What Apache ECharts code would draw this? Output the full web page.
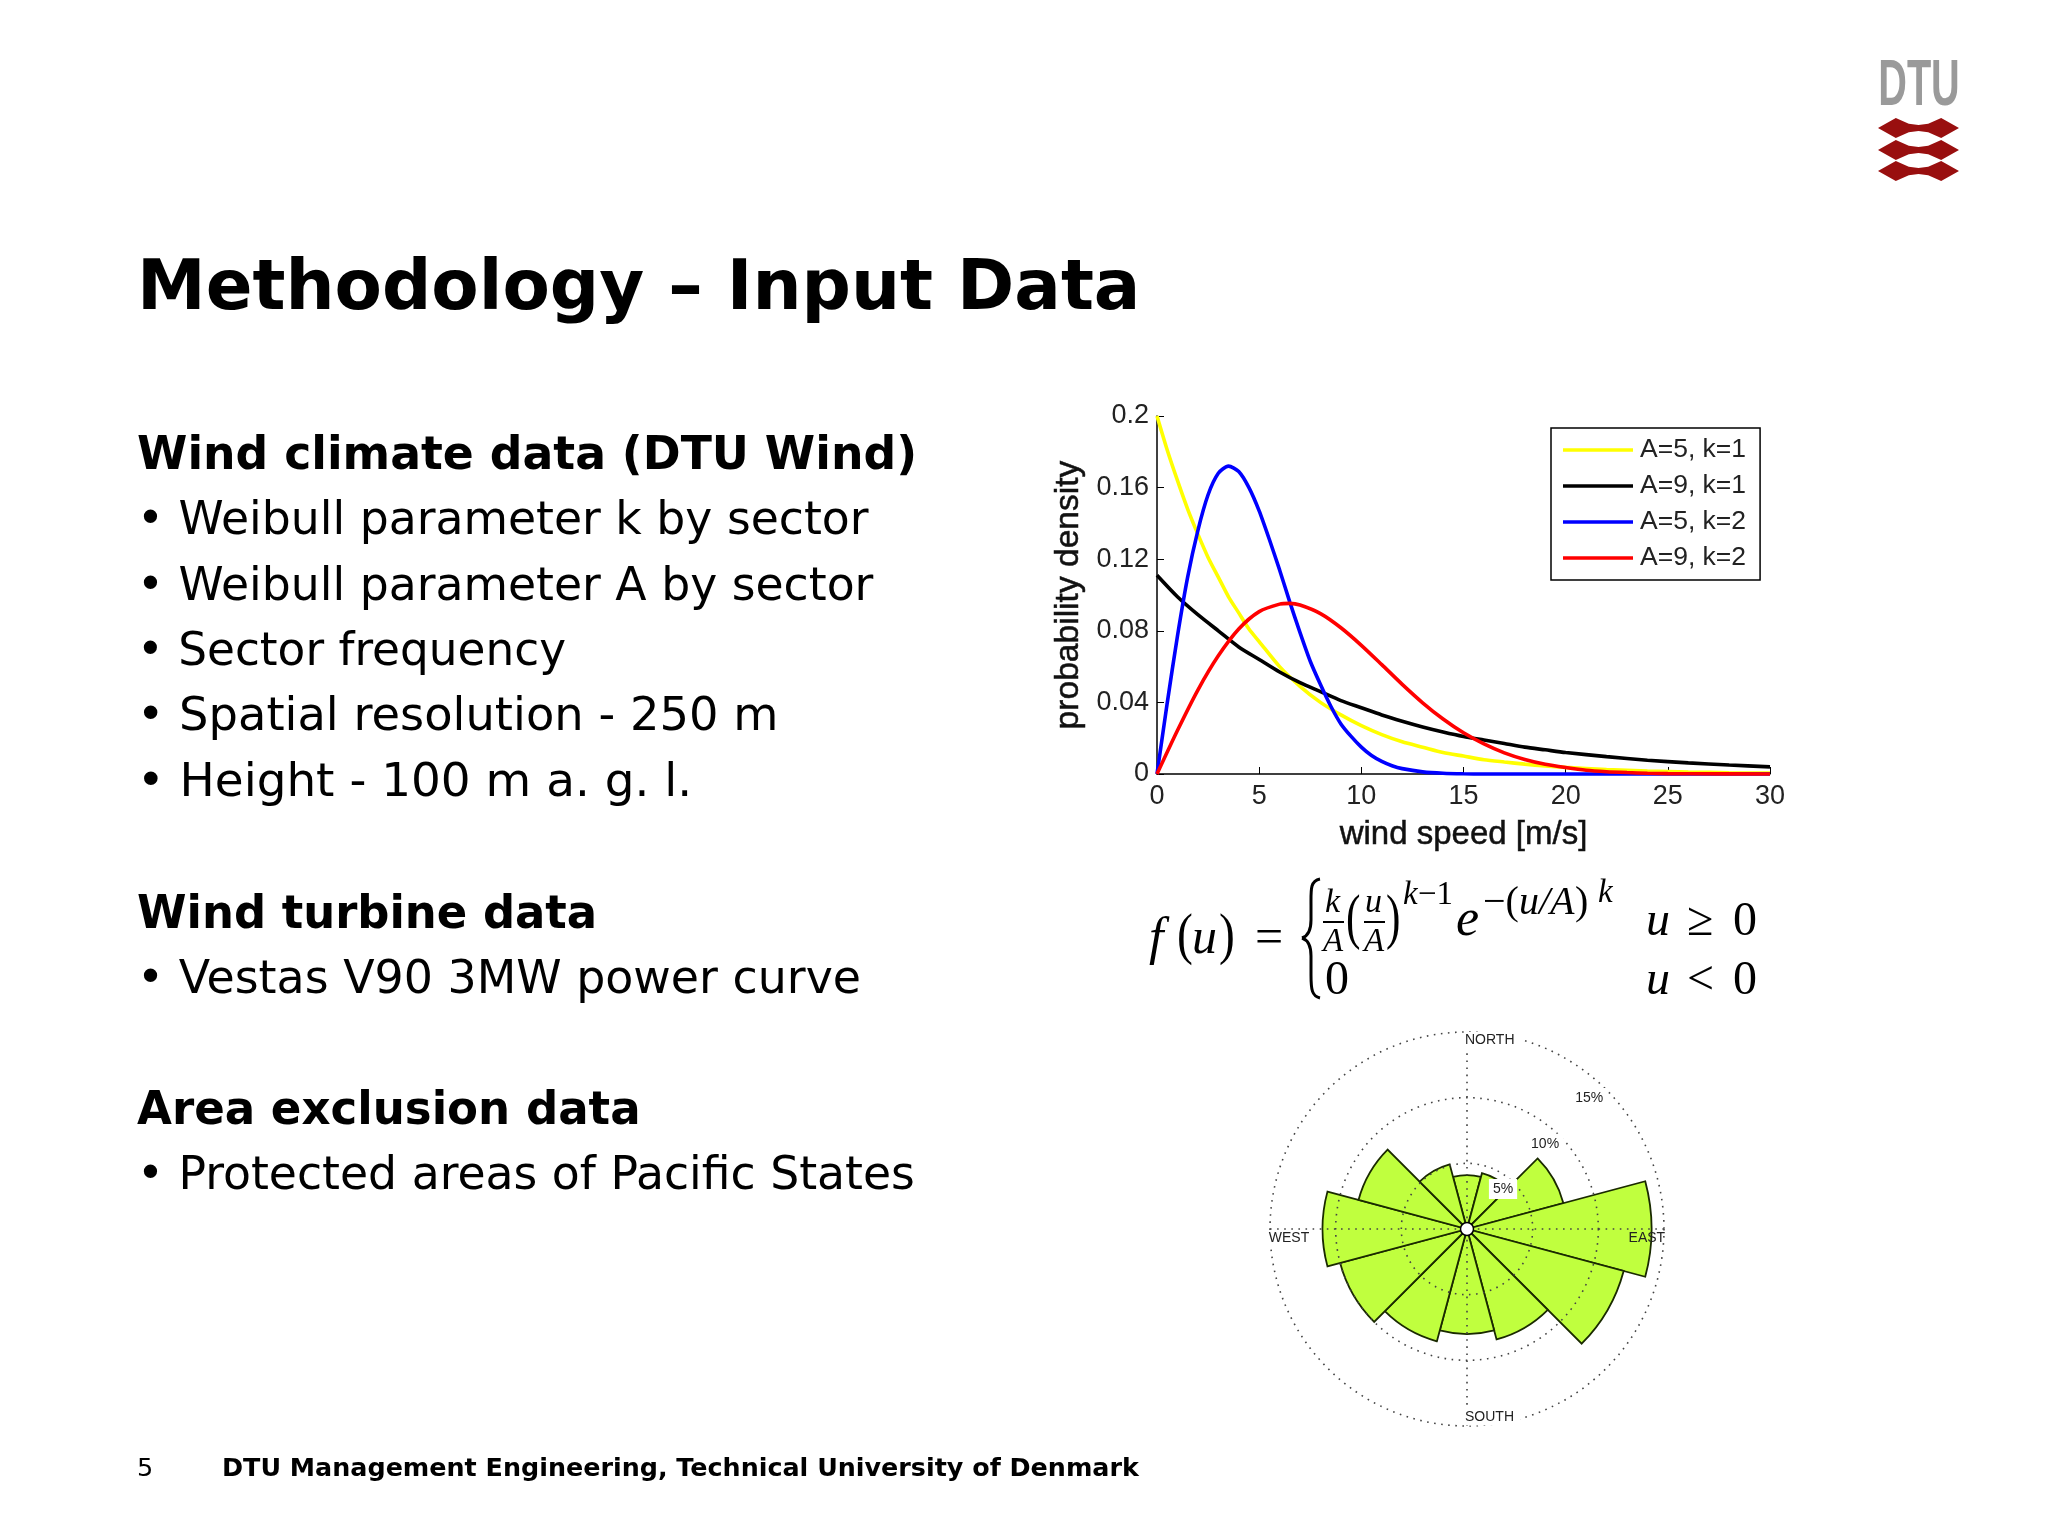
<!DOCTYPE html>
<html><head><meta charset="utf-8">
<style>html,body{margin:0;padding:0;background:#fff}#c{width:2048px;height:1536px}</style>
<script src="https://cdn.jsdelivr.net/npm/echarts@6/dist/echarts.min.js"></script>
</head><body><div id="c"></div>
<script>
// Weibull chart values
const yellowX=[0,.5,1,1.5,2,2.5,3,3.5,4,4.5,5,6,7,8,9,10,11,12,13,14,15,16,17,18,19,20,22,24,26,28,30];
const yellowY=[.2,.181,.164,.148,.134,.121,.11,.099,.09,.081,.074,.06,.049,.04,.033,.027,.022,.018,.015,.012,.01,.008,.0067,.0055,.0045,.0037,.0025,.0016,.0011,.0007,.0005];
const blackX=[0,1,2,3,4,5,6,7,8,9,10,11,12,13,14,15,16,17,18,19,20,22,24,26,28,30];
const blackY=[.111,.099,.089,.08,.071,.064,.057,.051,.046,.041,.037,.033,.0295,.0263,.0235,.021,.019,.017,.015,.0135,.012,.0097,.0077,.0062,.005,.004];
const blueX=[0,.5,1,1.5,2,2.5,3,3.5,4,4.5,5,5.5,6,6.5,7,7.5,8,8.5,9,9.5,10,10.5,11,11.5,12,13,14,15,16,20,24,30];
const blueY=[0,.0396,.077,.11,.136,.156,.168,.172,.169,.16,.147,.131,.114,.096,.079,.063,.05,.038,.028,.021,.015,.0103,.007,.0046,.003,.0012,.0004,.0001,0,0,0,0];
const redX=[0,1,2,3,4,5,6,6.5,7,8,9,10,11,12,13,14,15,16,17,18,19,20,21,22,23,24,25,26,30];
const redY=[0,.0243,.0469,.066,.081,.0907,.0949,.0953,.0944,.0896,.0817,.0719,.0611,.0501,.0398,.0307,.023,.0168,.0118,.0081,.0054,.0036,.0021,.0013,.0008,.0004,.0002,.0001,0];
const seriesNames=['A=5, k=1','A=9, k=1','A=5, k=2','A=9, k=2'];
// Wind rose values (percent by sector)
const sectors=['N','30','60','E','120','150','S','210','240','W','300','330'];
const sectorPct=[4.1,4.4,7.6,14.05,12.35,8.7,8,8.85,10,11,8.55,5.1];
const compassNames=['NORTH','SOUTH','EAST','WEST'];
const pctNames=['5%','10%','15%'];
// Slide text
const slideTitle='Methodology – Input Data';
const headings=['Wind climate data (DTU Wind)','Wind turbine data','Area exclusion data'];
const bullets=['• Weibull parameter k by sector','• Weibull parameter A by sector','• Sector frequency','• Spatial resolution - 250 m','• Height - 100 m a. g. l.','• Vestas V90 3MW power curve','• Protected areas of Pacific States'];
const footerNum='5';
const footerText='DTU Management Engineering, Technical University of Denmark';

// layout
const headingY=[457,916,1112], headingFit=[1,.983,.987];
const bulletY=[522,588,653,718,784,981,1177], bulletFit=[1,1,.993,1.015,1.026,1.004,1];
const zip=(a,b)=>a.map((v,i)=>[v,b[i]]);
const SANS='"Liberation Sans"', VER='"DejaVu Sans"', MATH='"Liberation Serif"';
const g=[];
function T(x,y,text,size,o={}){
  g.push({type:'text',x,y,scaleX:o.sx||1,scaleY:o.sy||1,z:10,style:{text,fontFamily:o.ff||VER,fontSize:size,fontWeight:o.w||'normal',fontStyle:o.i?'italic':'normal',fill:o.c||'#000',align:o.a||'left',verticalAlign:'middle'}});
}
T(137,291,slideTitle,69,{w:'bold'});
headings.forEach((h,i)=>T(137,headingY[i],h,45.7,{w:'bold',sx:headingFit[i]}));
bullets.forEach((b,i)=>T(137,bulletY[i],b,45.7,{sx:bulletFit[i]}));
T(137,1469,footerNum,25.5);
T(222,1469,footerText,25.4,{w:'bold'});
// logo
T(1919,87,'DTU',64,{ff:SANS,w:'bold',c:'#9a9a9a',a:'center',sx:.62});
[128,150,171].forEach(cy=>{
  const x0=1878,w=81,h=10;
  g.push({type:'polygon',z:10,shape:{smooth:0,points:[[x0,cy],[x0+w*.22,cy-h],[x0+w*.38,cy-h*.42],[x0+w*.5,cy-h*.3],[x0+w*.62,cy-h*.42],[x0+w*.78,cy-h],[x0+w,cy],[x0+w*.78,cy+h],[x0+w*.62,cy+h*.42],[x0+w*.5,cy+h*.3],[x0+w*.38,cy+h*.42],[x0+w*.22,cy+h]]},style:{fill:'#990f0f'}});
});
// formula
const I=(x,y,t,s)=>T(x,y,t,s,{ff:MATH,i:true});
const U=(x,y,t,s,sx)=>T(x,y,t,s,{ff:MATH,sx});
I(1149,940,'f',52); U(1177,938,'(',56,.85); I(1192,940,'u',50); U(1219,938,')',56,.85);
U(1255,940,'=',50);
const C=(x1,y1,a,b,c,d,x2,y2)=>g.push({type:'bezierCurve',z:10,shape:{x1,y1,cpx1:a,cpy1:b,cpx2:c,cpy2:d,x2,y2},style:{stroke:'#000',lineWidth:3,fill:'none'}});
const L=(x1,y1,x2,y2,w)=>g.push({type:'line',z:10,shape:{x1,y1,x2,y2},style:{stroke:'#000',lineWidth:w}});
C(1320,879,1310,881,1311,890,1311,905); L(1311,905,1311,920,3); C(1311,920,1311,930,1308,936,1302,938);
C(1302,938,1308,940,1311,946,1311,956); L(1311,956,1311,975,3); C(1311,975,1311,990,1312,996,1320,998);
I(1325,903,'k',34); I(1323,942,'A',33);
L(1323,922,1344,922,2);
U(1346,921,'(',62,.7);
I(1365,903,'u',34); I(1364,942,'A',33);
L(1364,922,1385,922,2);
U(1386,921,')',62,.7);
I(1403,895,'k',33); U(1418,895,'−1',33);
I(1456,921,'e',52);
U(1483,903,'−(',40); I(1519,903,'u/A',40); U(1575,903,')',40);
I(1598,893,'k',33);
I(1646,922,'u',48); U(1687,922,'≥',48); U(1733,922,'0',48);
U(1325,981,'0',48);
I(1646,981,'u',48); U(1687,981,'<',48); U(1733,981,'0',48);

const axisText={color:'#222',fontFamily:SANS,fontSize:27};
const lineS=(name,x,y,color,width)=>({name,type:'line',xAxisIndex:0,yAxisIndex:0,data:zip(x,y),showSymbol:false,smooth:.25,clip:false,lineStyle:{color,width},itemStyle:{color}});
const roseLabel=o=>Object.assign({show:true,formatter:'{b}',fontFamily:SANS,fontSize:14,color:'#222',opacity:1},o);
const labelSeries=(data,label)=>({type:'scatter',coordinateSystem:'polar',polarIndex:1,z:7,symbolSize:0,silent:true,itemStyle:{opacity:1},data,label:roseLabel(label)});
const chart=echarts.init(document.getElementById('c'),null,{width:2048,height:1536});
chart.setOption({
  animation:false,backgroundColor:'#fff',
  grid:{left:1157,top:416,width:613,height:358,show:false},
  xAxis:{type:'value',min:0,max:30,interval:5,name:'wind speed [m/s]',nameLocation:'middle',nameGap:44,
    nameTextStyle:{color:'#111',fontFamily:SANS,fontSize:33,textBorderColor:'#111',textBorderWidth:.5},
    axisLine:{onZero:false,lineStyle:{color:'#000',width:1.5}},axisTick:{inside:true,length:7,lineStyle:{color:'#000',width:1}},
    axisLabel:Object.assign({margin:9},axisText),splitLine:{show:false}},
  yAxis:{type:'value',min:0,max:.2,interval:.04,name:'probability density',nameLocation:'middle',nameGap:71,
    nameTextStyle:{color:'#111',fontFamily:SANS,fontSize:33.6,textBorderColor:'#111',textBorderWidth:.5},
    axisLine:{onZero:false,lineStyle:{color:'#000',width:1.5}},axisTick:{inside:true,length:7,lineStyle:{color:'#000',width:1}},
    axisLabel:Object.assign({margin:8},axisText),splitLine:{show:false}},
  legend:{data:seriesNames,left:1551,top:428,orient:'vertical',icon:'rect',itemWidth:70,itemHeight:3.5,itemGap:6,padding:[7,14,7,12],
    backgroundColor:'#fff',borderColor:'#000',borderWidth:1.5,borderRadius:0,
    selectedMode:false,textStyle:{color:'#222',fontFamily:SANS,fontSize:26.5,padding:[0,0,0,2],lineHeight:30}},
  polar:[{center:[1467,1229],radius:197},{center:[1467,1229],radius:197}],
  angleAxis:[
    {polarIndex:0,type:'category',data:sectors,startAngle:105,show:false,boundaryGap:true},
    {polarIndex:1,type:'value',min:0,max:360,interval:90,startAngle:90,z:5,
      axisLine:{show:false},axisTick:{show:false},axisLabel:{show:false},
      splitLine:{show:true,lineStyle:{color:'#444',width:1.6,type:[1.6,5.5]}}}],
  radiusAxis:[
    {polarIndex:0,type:'value',min:0,max:15,show:false},
    {polarIndex:1,type:'value',min:0,max:15,interval:5,z:5,
      axisLine:{show:false},axisTick:{show:false},axisLabel:{show:false},
      splitLine:{show:true,lineStyle:{color:'#444',width:1.6,type:[1.6,5.5]}}}],
  series:[
    lineS(seriesNames[0],yellowX,yellowY,'#ffff00',3.6),
    lineS(seriesNames[1],blackX,blackY,'#000000',3.6),
    lineS(seriesNames[2],blueX,blueY,'#0000ff',3.6),
    lineS(seriesNames[3],redX,redY,'#ff0000',3.6),
    {type:'bar',coordinateSystem:'polar',polarIndex:0,data:sectorPct,barWidth:'100%',barCategoryGap:0,z:2,
      itemStyle:{color:'#c0ff3e',borderColor:'#1a2a00',borderWidth:1.8}},
    labelSeries([{value:[14.4,0],name:compassNames[0]},{value:[14.35,180],name:compassNames[1]}],
      {position:'right',distance:-2,backgroundColor:'#fff',padding:[1,6,1,0]}),
    labelSeries([{value:[12.3,90],name:compassNames[2]}],{position:'right',distance:0,offset:[0,9]}),
    labelSeries([{value:[11.1,270],name:compassNames[3]}],{position:'left',distance:0,offset:[0,9],backgroundColor:'#fff',padding:[1,12,1,1]}),
    labelSeries([{value:[4.1,42],name:pctNames[0]},{value:[8.8,42.5],name:pctNames[1]},{value:[13.65,43],name:pctNames[2]}],
      {position:'inside',backgroundColor:'#fff',padding:[3,4,3,4]}),
    {type:'scatter',coordinateSystem:'polar',polarIndex:1,z:8,silent:true,symbol:'circle',symbolSize:13,
      data:[[0,0]],itemStyle:{color:'#fff',borderColor:'#000',borderWidth:1.5,opacity:1}}
  ],
  graphic:g
});
</script></body></html>
